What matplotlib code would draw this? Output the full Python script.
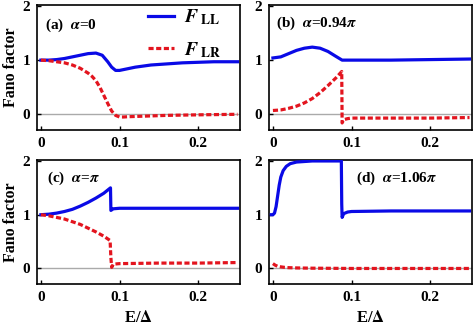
import matplotlib.pyplot as plt

plt.rcParams['font.family'] = ['Liberation Serif', 'DejaVu Serif']
plt.rcParams['font.weight'] = 'bold'
plt.rcParams['mathtext.fontset'] = 'stix'

# === Fano factor data, four phase values ===
# (a) alpha = 0
ea_ll = [0, 0.01, 0.02, 0.03, 0.04, 0.05, 0.06, 0.07, 0.078, 0.085, 0.09, 0.095, 0.1,
         0.11, 0.12, 0.14, 0.16, 0.18, 0.2, 0.22, 0.25]
fa_ll = [1.0, 1.0, 1.01, 1.03, 1.06, 1.09, 1.12, 1.13, 1.09, 0.97, 0.87, 0.81, 0.81,
         0.84, 0.87, 0.91, 0.93, 0.95, 0.96, 0.97, 0.97]
ea_lr = [0, 0.01, 0.02, 0.03, 0.04, 0.05, 0.06, 0.065, 0.07, 0.075, 0.08, 0.085, 0.09,
         0.095, 0.1, 0.105, 0.11, 0.12, 0.14, 0.16, 0.2, 0.25]
fa_lr = [1.0, 0.99, 0.97, 0.95, 0.91, 0.85, 0.76, 0.70, 0.62, 0.50, 0.35, 0.2, 0.06,
         -0.02, -0.05, -0.05, -0.045, -0.04, -0.03, -0.02, -0.01, 0.0]

# (b) alpha = 0.94 pi
eb_ll = [0, 0.01, 0.02, 0.03, 0.04, 0.05, 0.06, 0.07, 0.08, 0.088, 0.1, 0.15, 0.2, 0.25]
fb_ll = [1.04, 1.06, 1.12, 1.18, 1.22, 1.24, 1.22, 1.16, 1.07, 1.0, 1.0, 1.0, 1.01, 1.02]
eb_lr = [0, 0.01, 0.02, 0.03, 0.04, 0.05, 0.06, 0.07, 0.08, 0.0875, 0.088, 0.09, 0.095,
         0.1, 0.15, 0.2, 0.25]
fb_lr = [0.07, 0.08, 0.11, 0.15, 0.21, 0.29, 0.40, 0.53, 0.67, 0.79, -0.16, -0.1, -0.08,
         -0.07, -0.07, -0.07, -0.06]

# (c) alpha = pi
ec_ll = [0, 0.01, 0.02, 0.03, 0.04, 0.05, 0.06, 0.07, 0.08, 0.0885, 0.089, 0.092, 0.1,
         0.15, 0.2, 0.25]
fc_ll = [1.0, 1.01, 1.03, 1.06, 1.1, 1.16, 1.23, 1.31, 1.4, 1.50, 1.08, 1.11, 1.12,
         1.12, 1.12, 1.12]
ec_lr = [0, 0.01, 0.02, 0.03, 0.04, 0.05, 0.06, 0.07, 0.08, 0.088, 0.089, 0.09, 0.092,
         0.1, 0.15, 0.2, 0.25]
fc_lr = [1.0, 0.98, 0.95, 0.92, 0.87, 0.82, 0.75, 0.68, 0.6, 0.52, 0.2, 0.02, 0.08,
         0.09, 0.1, 0.1, 0.11]

# (d) alpha = 1.06 pi
ed_ll = [-0.002, 0, 0.002, 0.004, 0.006, 0.008, 0.01, 0.013, 0.017, 0.022, 0.03, 0.04,
         0.05, 0.087, 0.0875, 0.088, 0.09, 0.095, 0.1, 0.15, 0.2, 0.25]
fd_ll = [1.0, 1.0, 1.03, 1.15, 1.35, 1.55, 1.7, 1.82, 1.9, 1.95, 1.98, 1.99,
         2.0, 2.0, 1.2, 0.95, 1.02, 1.05, 1.06, 1.07, 1.07, 1.07]
ed_lr = [0, 0.003, 0.006, 0.01, 0.015, 0.02, 0.03, 0.05, 0.1, 0.15, 0.2, 0.25]
fd_lr = [0.09, 0.06, 0.04, 0.03, 0.02, 0.015, 0.01, 0.005, 0.0, 0.0, 0.0, 0.0]

panels = [
    ("(a)  $\\alpha$=0", ea_ll, fa_ll, ea_lr, fa_lr, (0.04, 0.84)),
    ("(b)  $\\alpha$=0.94$\\pi$", eb_ll, fb_ll, eb_lr, fb_lr, (0.035, 0.85)),
    ("(c)  $\\alpha$=$\\pi$", ec_ll, fc_ll, ec_lr, fc_lr, (0.05, 0.855)),
    ("(d)  $\\alpha$=1.06$\\pi$", ed_ll, fd_ll, ed_lr, fd_lr, (0.43, 0.855)),
]

# axes boxes in figure fraction
boxes = [
    [0.078, 0.600, 0.428, 0.385],
    [0.5675, 0.600, 0.428, 0.385],
    [0.078, 0.126, 0.428, 0.382],
    [0.5675, 0.126, 0.428, 0.382],
]

blue = '#0a0ae6'
red = '#e3141e'

fig = plt.figure(figsize=(4.74, 3.25), dpi=100)

for i, (label, e1, f1, e2, f2, pos) in enumerate(panels):
    ax = fig.add_axes(boxes[i])
    ax.axhline(0, color='#aaaaaa', lw=1.0, zorder=1)
    ax.plot(e1, f1, color=blue, lw=2.3, label='$F_{\\ \\mathbf{LL}}$', zorder=3)
    ax.plot(e2, f2, color=red, lw=2.3, dashes=(1.6, 0.8), label='$F_{\\ \\mathbf{LR}}$', zorder=3)
    ax.set_xlim(-0.005, 0.253)
    ax.set_ylim(-0.29, 2.02)
    ax.set_xticks([0, 0.1, 0.2])
    ax.set_xticklabels(['0', '0.1', '0.2'])
    ax.set_yticks([0, 1, 2])
    ax.tick_params(direction='in', length=3, width=1, labelsize=11, pad=5)
    for s in ax.spines.values():
        s.set_linewidth(1.2)
    ax.text(pos[0], pos[1], label, transform=ax.transAxes, fontsize=11,
            fontweight='bold', va='center', ha='left')
    if i % 2 == 0:
        ax.set_ylabel('Fano factor', fontsize=11.5, fontweight='bold', labelpad=2)
    if i >= 2:
        ax.set_xlabel('E/$\\mathbf{\\Delta}$', fontsize=12, fontweight='bold', labelpad=4)
    if i == 0:
        ax.legend(loc='upper right', frameon=False, fontsize=14, handlelength=1.3,
                  labelspacing=0.65, borderaxespad=0.0, handletextpad=0.55,
                  bbox_to_anchor=(0.95, 1.04))

fig.savefig('out.png', dpi=100)
